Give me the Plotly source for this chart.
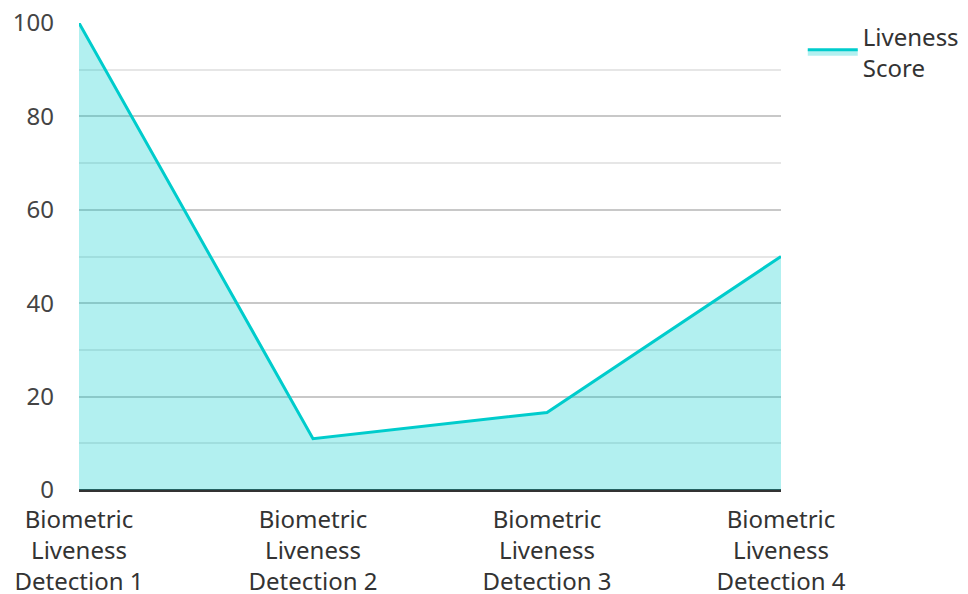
import plotly.graph_objects as go

categories = ["Biometric<br>Liveness<br>Detection 1", "Biometric<br>Liveness<br>Detection 2",
              "Biometric<br>Liveness<br>Detection 3", "Biometric<br>Liveness<br>Detection 4"]
scores = [100, 11, 16.6, 50]
series_name = "Liveness<br>Score"

fig = go.Figure()
fig.add_trace(go.Scatter(
    x=categories, y=scores, name=series_name, mode="lines",
    line=dict(color="#00CCCC", width=3),
    fill="tozeroy", fillcolor="rgba(0,204,204,0.3)",
))

font = dict(family="Noto Sans", size=24, color="#333333")
yfont = dict(family="Noto Sans", size=24, color="#444444")
fig.update_layout(
    width=968, height=594,
    margin=dict(l=71, r=195, t=15, b=112, autoexpand=False),
    paper_bgcolor="white", plot_bgcolor="white",
    font=font,
    showlegend=True,
    legend=dict(x=1.031, y=1.019, xanchor="left", yanchor="top", font=font,
                itemwidth=50, bgcolor="rgba(0,0,0,0)"),
    xaxis=dict(type="category", range=[0, 3], showgrid=False, zeroline=False,
               showline=False, ticks="", tickfont=font, ticklabelstandoff=13,
               automargin=False, ticklabeloverflow="allow"),
    yaxis=dict(range=[0, 100], dtick=20, tick0=0, showgrid=True, gridcolor="#c8c8c8",
               gridwidth=1.5, zeroline=True, zerolinecolor="#333333", zerolinewidth=2.5,
               showline=False, ticks="", tickfont=yfont, ticklabelstandoff=24,
               automargin=False, ticklabeloverflow="allow",
               minor=dict(dtick=10, showgrid=True, gridcolor="#e6e6e6", gridwidth=1.5)),
)
fig.write_html("out.html")
